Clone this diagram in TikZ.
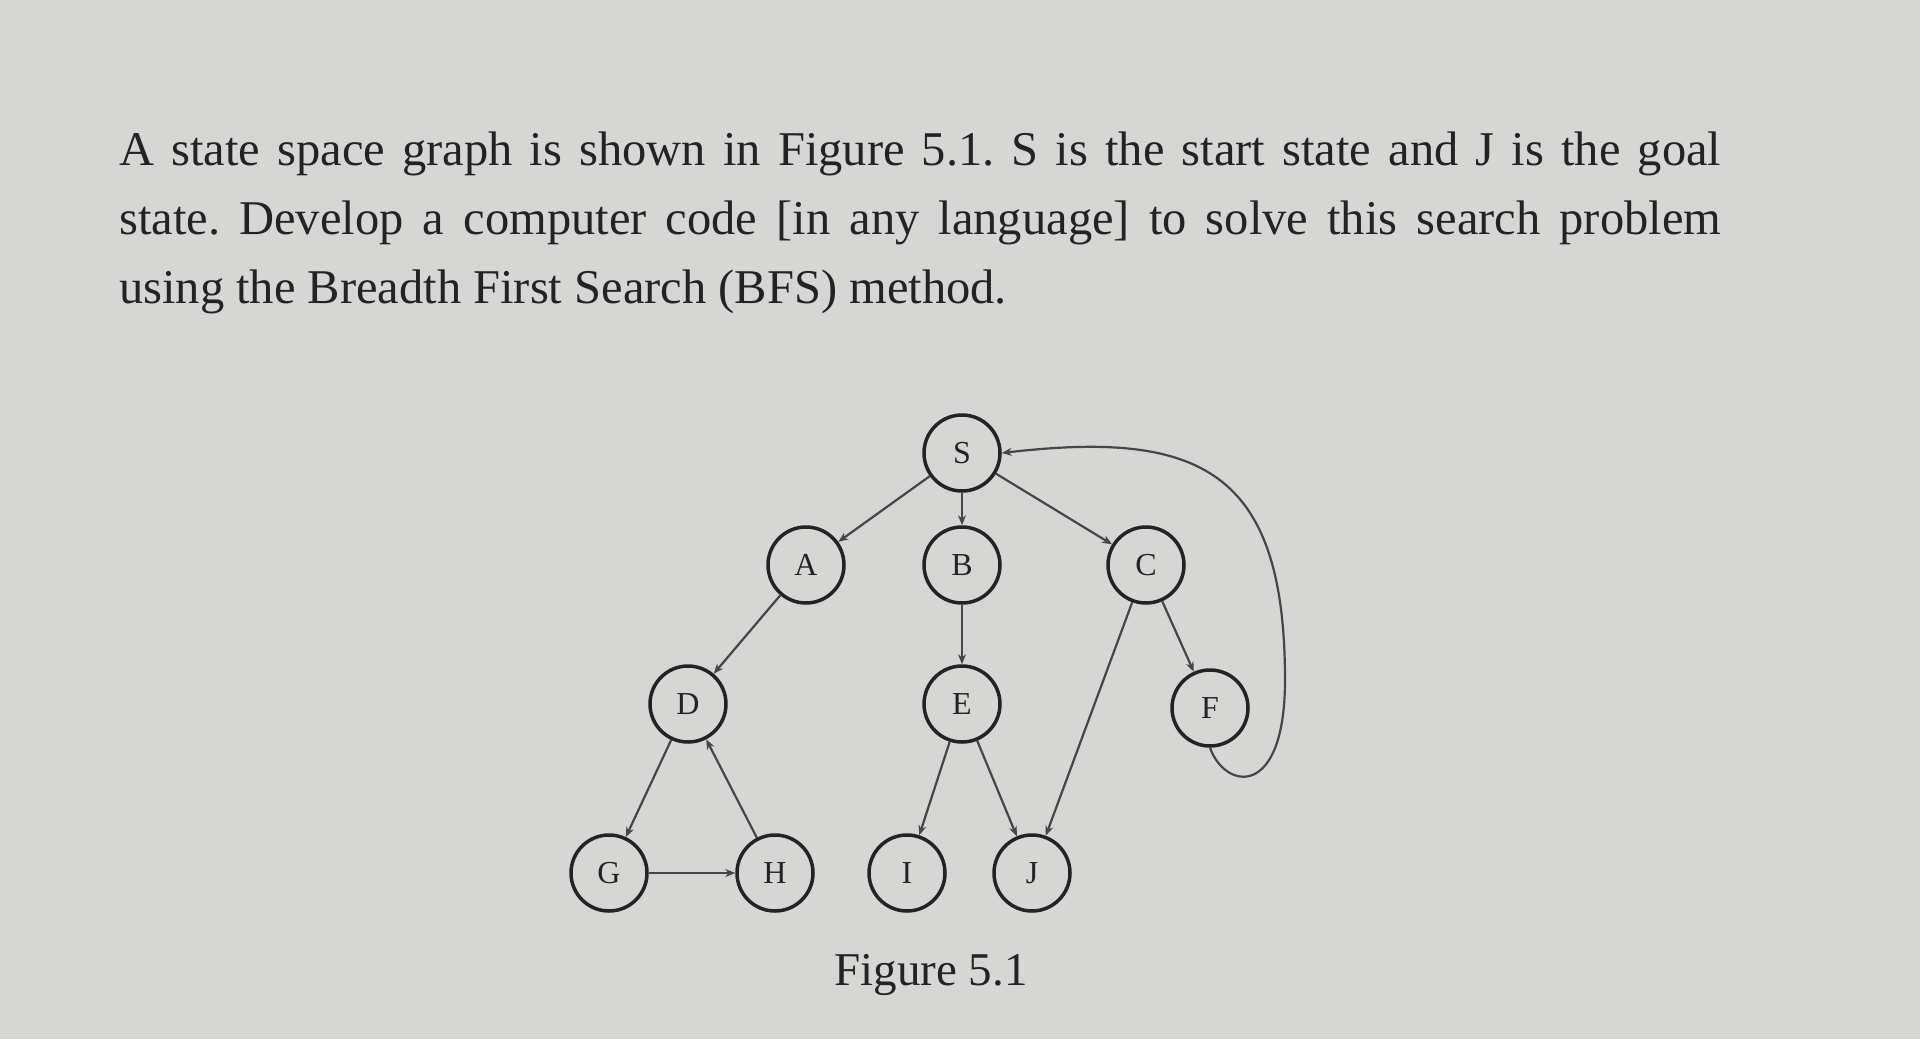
\documentclass[tikz,border=0pt]{standalone}
\usepackage{fontspec}
\setmainfont{Liberation Serif}
\usetikzlibrary{arrows.meta}
\definecolor{bg}{RGB}{214,214,212}
\definecolor{ink}{RGB}{35,35,35}
\definecolor{edge}{RGB}{70,70,70}
\frenchspacing
\begin{document}
\begin{tikzpicture}[x=1pt,y=-1pt,
  st/.style={circle,draw=ink,line width=3.5pt,minimum size=76pt,inner sep=0pt,font=\fontsize{32}{32}\selectfont,text=ink},
  ed/.style={draw=edge,line width=2.2pt,-{Stealth[length=10pt,width=8pt]}},
  ln/.style={draw=edge,line width=2.2pt}]
\fill[bg] (0,0) rectangle (1920,1039);
\useasboundingbox (0,0) rectangle (1920,1039);
\begin{scope}[every node/.style={anchor=base west,inner sep=0pt,text=ink,font=\fontsize{48.5}{48.5}\selectfont}]
\node (l1) at (119,165) {\makebox[1602pt][s]{A state space graph is shown in Figure 5.1. S is the start state and J is the goal}};
\node (l2) at (119,234) {\makebox[1602pt][s]{state. Develop a computer code [in any language] to solve this search problem}};
\node (l3) at (119,303) {using the Breadth First Search (BFS) method.};
\end{scope}
\node[st] (S) at (962,453) {S};
\node[st] (A) at (806,565) {A};
\node[st] (B) at (962,565) {B};
\node[st] (C) at (1146,565) {C};
\node[st] (D) at (688,704) {D};
\node[st] (E) at (962,704) {E};
\node[st] (F) at (1210,708) {F};
\node[st] (G) at (609,873) {G};
\node[st] (H) at (775,873) {H};
\node[st] (I) at (907,873) {I};
\node[st] (J) at (1032,873) {J};
\draw[ed] (S) -- (A);
\draw[ed] (S) -- (B);
\draw[ed] (S) -- (C);
\draw[ed] (A) -- (D);
\draw[ed] (B) -- (E);
\draw[ed] (C) -- (F);
\draw[ed] (C) -- (J);
\draw[ed] (E) -- (I);
\draw[ed] (E) -- (J);
\draw[ed] (D) -- (G);
\draw[ed] (H) -- (D);
\draw[ed] (G) -- (H);
\draw[ed] (F.south) .. controls (1225,790) and (1285,800) .. (1285,680)
  .. controls (1285,470) and (1200,430) .. (S.east);
\node[anchor=base,inner sep=0pt,text=ink,font=\fontsize{47}{47}\selectfont] (cap) at (931,985) {Figure 5.1};
\end{tikzpicture}
\end{document}
